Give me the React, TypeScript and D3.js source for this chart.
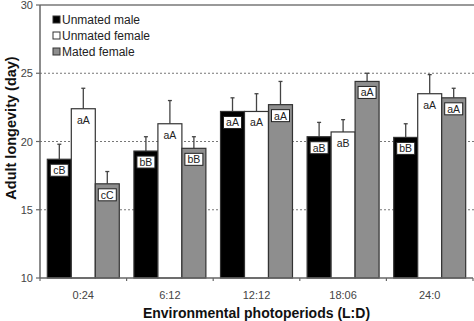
import React from "react";
import * as d3 from "d3";

const categories = ["0:24", "6:12", "12:12", "18:06", "24:0"];
const seriesNames = ["Unmated male", "Unmated female", "Mated female"];
const unmatedMale = [18.7, 19.3, 22.2, 20.35, 20.3];
const unmatedFemale = [22.4, 21.3, 22.2, 20.7, 23.5];
const matedFemale = [16.9, 19.5, 22.7, 24.4, 23.2];
const errMale = [1.1, 1.05, 1.0, 1.05, 1.0];
const errUnF = [1.5, 1.7, 1.3, 0.9, 1.4];
const errMated = [0.9, 0.85, 1.7, 0.6, 0.7];
const lettersMale = ["cB", "bB", "aA", "aB", "bB"];
const lettersUnF = ["aA", "aA", "aA", "aB", "aA"];
const lettersMated = ["cC", "bB", "aA", "aA", "aA"];
const yTicks = [10, 15, 20, 25, 30];

const W = 474;
const H = 321;
const left = 40;
const right = 473;
const top = 5;
const bottom = 278;

const fills = ["#000000", "#ffffff", "#8e8e8e"];

export default function App() {
  const x0 = d3.scaleBand<string>().domain(categories).range([left, right]).paddingInner(0).paddingOuter(0);
  const x1 = d3.scaleBand<string>().domain(seriesNames).range([0, x0.bandwidth()]).paddingInner(0).paddingOuter(0.305);
  const y = d3.scaleLinear().domain([10, 30]).range([bottom, top]);

  const series = [
    { name: seriesNames[0], vals: unmatedMale, errs: errMale, letters: lettersMale, fill: fills[0] },
    { name: seriesNames[1], vals: unmatedFemale, errs: errUnF, letters: lettersUnF, fill: fills[1] },
    { name: seriesNames[2], vals: matedFemale, errs: errMated, letters: lettersMated, fill: fills[2] },
  ];

  const font = "Arial, 'Liberation Sans', sans-serif";
  const bw = x1.bandwidth();

  return (
    <svg width={W} height={H} style={{ position: "absolute", left: 0, top: 0, background: "#fff" }}>
      {/* gridlines */}
      {yTicks.filter((t) => t > 10 && t < 30).map((t) => (
        <line key={t} x1={left} x2={W} y1={y(t)} y2={y(t)} stroke="#777" strokeWidth={1} strokeDasharray="2,2" />
      ))}
      <line x1={left} x2={W} y1={y(30)} y2={y(30)} stroke="#777" strokeWidth={1.5} />

      {/* bars */}
      {categories.map((c, i) => (
        <g key={c}>
          {series.map((s) => {
            const bx = (x0(c) as number) + (x1(s.name) as number);
            const cx = bx + bw / 2;
            const yv = y(s.vals[i]);
            const ye = y(s.vals[i] + s.errs[i]);
            return (
              <g key={s.name}>
                <line x1={cx} x2={cx} y1={yv} y2={ye} stroke="#444" strokeWidth={1.3} />
                <line x1={cx - 2} x2={cx + 2} y1={ye} y2={ye} stroke="#444" strokeWidth={1.3} />
                <rect x={bx} y={yv} width={bw} height={bottom - yv} fill={s.fill} stroke="#333" strokeWidth={1.2} />
                <rect
                  x={cx - 9}
                  y={yv + 5}
                  width={18}
                  height={12}
                  fill="#fff"
                  stroke={s.fill === "#ffffff" ? "none" : "#222"}
                  strokeWidth={1}
                />
                <text x={cx} y={yv + 15} textAnchor="middle" fontFamily={font} fontSize={10.5} fill="#222">
                  {s.letters[i]}
                </text>
              </g>
            );
          })}
        </g>
      ))}

      {/* axes */}
      <line x1={left} x2={left} y1={top} y2={bottom} stroke="#666" strokeWidth={1.5} />
      <line x1={left} x2={right} y1={bottom} y2={bottom} stroke="#666" strokeWidth={1.5} />
      {yTicks.map((t) => (
        <g key={t}>
          <line x1={left - 4} x2={left} y1={y(t)} y2={y(t)} stroke="#666" strokeWidth={1.2} />
          <text x={left - 7} y={y(t) + 4} textAnchor="end" fontFamily={font} fontSize={11} fill="#444">
            {t}
          </text>
        </g>
      ))}
      {categories.map((c) => (
        <g key={c}>
          <line x1={x0(c) as number} x2={x0(c) as number} y1={bottom} y2={bottom + 3} stroke="#666" strokeWidth={1.2} />
          <text x={(x0(c) as number) + x0.bandwidth() / 2} y={bottom + 21} textAnchor="middle" fontFamily={font} fontSize={11} fill="#444">
            {c}
          </text>
        </g>
      ))}
      <line x1={right} x2={right} y1={bottom} y2={bottom + 3} stroke="#666" strokeWidth={1.2} />

      {/* titles */}
      <text x={(left + right) / 2} y={318} textAnchor="middle" fontFamily={font} fontSize={14} fontWeight="bold" fill="#111">
        Environmental photoperiods (L:D)
      </text>
      <text
        transform={`translate(16,128) rotate(-90)`}
        textAnchor="middle"
        fontFamily={font}
        fontSize={14.5}
        fontWeight="bold"
        fill="#111"
      >
        Adult longevity (day)
      </text>

      {/* legend */}
      {series.map((s, i) => (
        <g key={s.name}>
          <rect x={53} y={16 + i * 16} width={7} height={7} fill={s.fill} stroke="#333" strokeWidth={1} />
          <text x={62} y={23.5 + i * 16} fontFamily={font} fontSize={12} fill="#222">
            {s.name}
          </text>
        </g>
      ))}
    </svg>
  );
}
